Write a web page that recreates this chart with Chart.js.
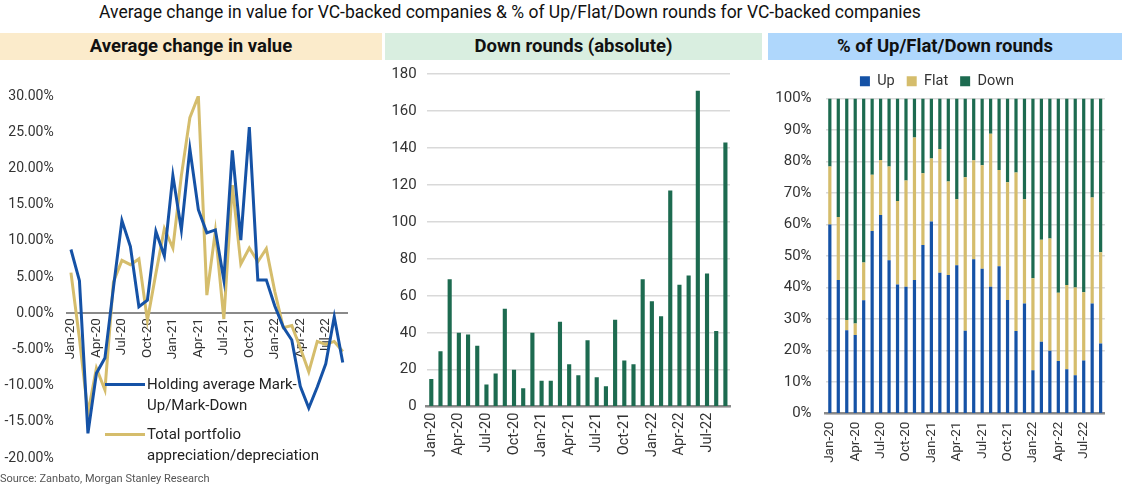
<!DOCTYPE html>
<html>
<head>
<meta charset="utf-8">
<script src="https://cdn.jsdelivr.net/npm/chart.js@4.4.1/dist/chart.umd.min.js"></script>
<style>
  body { margin: 0; width: 1125px; height: 497px; background: #fff; position: relative; overflow: hidden; font-family: Roboto, sans-serif; }
  .title { position: absolute; top: 2px; left: 0; width: 1020px; text-align: center; font-size: 17.5px; color: #111; }
  .band { position: absolute; top: 33px; height: 27px; line-height: 27px; text-align: center; font-weight: bold; font-size: 18.5px; color: #111; }
  .box { position: absolute; }
  .legend { position: absolute; left: 105px; font-size: 15px; color: #222; line-height: 21px; }
  .legend .row { position: relative; padding-left: 42px; margin-bottom: 8px; }
  .legend .sw { position: absolute; left: 0; top: 9px; width: 40px; height: 3px; }
  .source { position: absolute; left: 0; top: 472px; font-size: 11px; color: #555; }
</style>
</head>
<body>
<div class="title">Average change in value for VC-backed companies &amp; % of Up/Flat/Down rounds for VC-backed companies</div>
<div class="band" style="left:0;width:382px;background:#FBEBCB;">Average change in value</div>
<div class="band" style="left:385px;width:377px;background:#D9EEE0;">Down rounds (absolute)</div>
<div class="band" style="left:768px;width:354px;background:#AFD7FC;">% of Up/Flat/Down rounds</div>

<div class="box" style="left:0;top:62px;width:380px;height:420px;"><canvas id="lineChart" width="380" height="420"></canvas></div>
<div class="box" style="left:380px;top:55px;width:380px;height:427px;"><canvas id="barChart" width="380" height="427"></canvas></div>
<div class="box" style="left:760px;top:62px;width:365px;height:420px;"><canvas id="stackChart" width="365" height="420"></canvas></div>

<div class="legend" id="lineLegend" style="top:374px;"></div>
<div class="source">Source: Zanbato, Morgan Stanley Research</div>

<script>
// =====================
// DATA
// =====================
const months = [
    'Jan-20','Feb-20','Mar-20','Apr-20','May-20','Jun-20','Jul-20','Aug-20','Sep-20','Oct-20','Nov-20','Dec-20',
    'Jan-21','Feb-21','Mar-21','Apr-21','May-21','Jun-21','Jul-21','Aug-21','Sep-21','Oct-21','Nov-21','Dec-21',
    'Jan-22','Feb-22','Mar-22','Apr-22','May-22','Jun-22','Jul-22','Aug-22','Sep-22'
];

// Average change in value (%)
const holdingMarkUp = [
    8.8, 4.5, -16.6, -8.3, -6.2, 3.5, 12.8, 9.2, 0.9, 1.8, 11.3, 7.9,
    19.0, 11.5, 22.7, 14.3, 11.1, 11.5, 4.6, 22.5, 10.1, 25.7, 4.6, 4.6,
    1.0, -1.9, -3.7, -10.1, -13.1, -10.2, -7.0, -0.5, -6.8
];
const totalPortfolio = [
    5.6, -3.5, -13.8, -7.6, -10.6, 4.3, 7.3, 6.7, 7.5, -1.0, 5.5, 11.7,
    9.0, 19.0, 27.0, 30.0, 2.5, 11.3, -0.8, 17.7, 6.8, 9.0, 7.1, 8.9,
    3.0, -2.0, -1.7, -4.8, -8.1, -3.9, -4.3, -3.9, -5.3
];
const lineLabels = ['Holding average Mark-Up/Mark-Down', 'Total portfolio appreciation/depreciation'];
const lineLegendText = [['Holding average Mark-', 'Up/Mark-Down'], ['Total portfolio', 'appreciation/depreciation']];

// Down rounds (absolute)
const downRounds = [
    15, 30, 69, 40, 39, 33, 12, 18, 53, 20, 10, 40,
    14, 14, 46, 23, 17, 36, 16, 11, 47, 25, 23, 69,
    57, 49, 117, 66, 71, 171, 72, 41, 143
];

// % of Up/Flat/Down rounds
const upPct = [
    60.0, 42.4, 26.5, 25.0, 36.0, 58.0, 63.0, 48.7, 41.0, 40.3, 42.4, 53.5,
    61.0, 44.7, 44.0, 47.1, 26.3, 49.0, 46.0, 40.3, 46.8, 36.1, 26.2, 35.0,
    13.8, 22.8, 20.0, 16.7, 14.1, 12.2, 16.9, 35.0, 22.3
];
const flatPct = [
    18.4, 20.0, 3.2, 3.6, 12.0, 17.8, 17.5, 29.7, 26.5, 33.7, 45.2, 22.8,
    20.0, 39.3, 29.7, 20.9, 48.7, 31.4, 32.8, 48.5, 30.5, 37.3, 50.3, 33.0,
    29.2, 32.4, 35.6, 21.7, 26.7, 27.8, 21.6, 33.6, 28.9
];
const downPct = [
    21.6, 37.6, 70.3, 71.4, 52.0, 24.2, 19.5, 21.6, 32.5, 26.0, 12.4, 23.7,
    19.0, 16.0, 26.3, 32.0, 25.0, 19.6, 21.2, 11.2, 22.7, 26.6, 23.5, 32.0,
    57.0, 44.8, 44.4, 61.6, 59.2, 60.0, 61.5, 31.4, 48.8
];

// =====================
// STYLE
// =====================
const BLUE  = '#1552A6';
const GOLD  = '#D5BD6C';
const GREEN = '#1D6B50';
const TICK  = '#333333';
const FONT  = 'Roboto';

Chart.defaults.font.family = FONT;
Chart.defaults.color = TICK;
Chart.defaults.animation = false;

const everyThird = function (val, idx) {
    return idx % 3 === 0 ? months[idx] : '';
};

// =====================
// LINE CHART
// =====================
new Chart(document.getElementById('lineChart'), {
    type: 'line',
    data: {
        labels: months,
        datasets: [
            { label: lineLabels[0], data: holdingMarkUp, borderColor: BLUE, borderWidth: 3, pointRadius: 0, tension: 0 },
            { label: lineLabels[1], data: totalPortfolio, borderColor: GOLD, borderWidth: 3, pointRadius: 0, tension: 0 },
        ]
    },
    options: {
        responsive: false,
        layout: { padding: { top: 34, right: 33, bottom: 24, left: 0 } },
        plugins: { legend: { display: false }, tooltip: { enabled: false } },
        scales: {
            x: {
                position: { y: 0 },
                offset: true,
                grid: { display: false, drawTicks: false },
                border: { display: true, color: '#8a8a8a', width: 2 },
                ticks: {
                    autoSkip: false, maxRotation: 90, minRotation: 90, padding: 5,
                    font: { size: 13.5 }, color: TICK,
                    callback: everyThird,
                },
            },
            y: {
                min: -20, max: 30,
                grid: { display: false, drawTicks: false },
                border: { display: false },
                ticks: {
                    stepSize: 5, padding: 13, font: { size: 14 }, color: TICK,
                    callback: v => v.toFixed(2) + '%',
                },
                afterFit: s => { s.width = 66.7; },
            }
        }
    }
});

// manual legend for the line chart
let legendHtml = '';
[BLUE, GOLD].forEach((c, i) => {
    legendHtml += `
        <div class="row">
            <div class="sw" style="background:${c};"></div>
            ${lineLegendText[i].join('<br>')}
        </div>`;
});
document.getElementById('lineLegend').innerHTML = legendHtml;

// =====================
// DOWN ROUNDS BAR CHART
// =====================
new Chart(document.getElementById('barChart'), {
    type: 'bar',
    data: {
        labels: months,
        datasets: [{ label: 'Down rounds', data: downRounds, backgroundColor: GREEN, barPercentage: 0.45, categoryPercentage: 1 }]
    },
    options: {
        responsive: false,
        layout: { padding: { top: 3, right: 30, bottom: 0, left: 0 } },
        plugins: { legend: { display: false }, tooltip: { enabled: false } },
        scales: {
            x: {
                grid: { display: false, drawTicks: false },
                border: { display: true, color: '#8a8a8a', width: 2.5 },
                ticks: {
                    autoSkip: false, maxRotation: 90, minRotation: 90, padding: 6,
                    font: { size: 14.5 }, color: TICK,
                    callback: everyThird,
                },
                afterFit: s => { s.height = 75.3; },
            },
            y: {
                min: 0, max: 180,
                grid: { color: '#d9d9d9', lineWidth: 1.5, drawTicks: false },
                border: { display: false },
                ticks: { stepSize: 20, padding: 10, font: { size: 15 }, color: TICK },
                afterFit: s => { s.width = 46.7; },
            }
        }
    }
});

// =====================
// UP / FLAT / DOWN STACKED
// =====================
new Chart(document.getElementById('stackChart'), {
    type: 'bar',
    data: {
        labels: months,
        datasets: [
            { label: 'Up',   data: upPct,   backgroundColor: BLUE,  barPercentage: 0.38, categoryPercentage: 1 },
            { label: 'Flat', data: flatPct, backgroundColor: GOLD,  barPercentage: 0.38, categoryPercentage: 1 },
            { label: 'Down', data: downPct, backgroundColor: GREEN, barPercentage: 0.38, categoryPercentage: 1 },
        ]
    },
    options: {
        responsive: false,
        layout: { padding: { top: 0, right: 11, bottom: 0, left: 0 } },
        plugins: {
            legend: {
                position: 'top',
                labels: { boxWidth: 10, boxHeight: 10, padding: 12, font: { size: 14.5 }, color: TICK }
            },
            tooltip: { enabled: false }
        },
        scales: {
            x: {
                stacked: true,
                grid: { display: false, drawTicks: false },
                border: { display: true, color: '#8a8a8a', width: 2.5 },
                ticks: {
                    autoSkip: false, maxRotation: 90, minRotation: 90, padding: 8,
                    font: { size: 13.5 }, color: TICK,
                    callback: everyThird,
                },
                afterFit: s => { s.height = 68.3; },
            },
            y: {
                stacked: true, min: 0, max: 100,
                grid: { color: '#d9d9d9', lineWidth: 1.5, drawTicks: false },
                border: { display: false },
                ticks: { stepSize: 10, padding: 14, font: { size: 15 }, color: TICK, callback: v => v + '%' },
                afterFit: s => { s.width = 65.6; },
            }
        }
    }
});
</script>
</body>
</html>
